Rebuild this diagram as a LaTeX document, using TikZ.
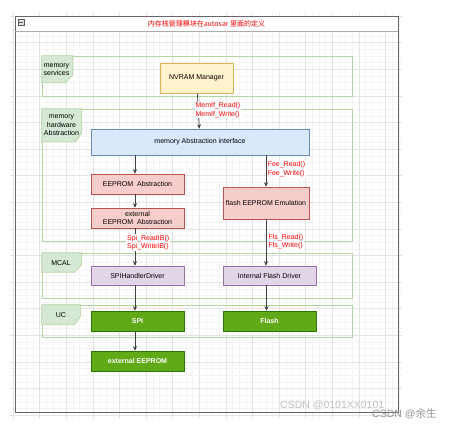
\documentclass[tikz,border=0pt]{standalone}
\usepackage{fontspec}
\setmainfont{Liberation Sans}
\newfontfamily\cjkfont{Noto Sans CJK SC}
\usepackage{xcolor}
\usepackage{tikz}
\usetikzlibrary{positioning,arrows.meta,calc}
\definecolor{svcfill}{HTML}{FFF2CC}
\definecolor{svcline}{HTML}{D6B656}
\definecolor{ifcfill}{HTML}{DAE8FC}
\definecolor{ifcline}{HTML}{6C8EBF}
\definecolor{absfill}{HTML}{F8CECC}
\definecolor{absline}{HTML}{B85450}
\definecolor{drvfill}{HTML}{E1D5E7}
\definecolor{drvline}{HTML}{9673A6}
\definecolor{hwfill}{HTML}{60A917}
\definecolor{hwline}{HTML}{2D7600}
\definecolor{grpline}{RGB}{180,212,162}
\definecolor{tabfill}{HTML}{D5E8D4}

\begin{document}
\begin{tikzpicture}[
    x=1pt, y=-1pt,
    >={Stealth[length=4.5pt,width=4pt]},
    every node/.style={font=\fontsize{7}{8.5}\selectfont},
    box/.style={
        rectangle, draw, line width=0.6pt, minimum width=93pt, minimum height=20pt,
        inner sep=1pt, align=center
    },
    grp/.style={rectangle, draw=grpline, line width=0.7pt, minimum width=310pt},
    tab/.style={draw=grpline, fill=tabfill, line width=0.7pt},
    tablabel/.style={align=center, inner sep=0pt},
    arr/.style={->, draw=black!75, line width=0.7pt},
    lbl/.style={text=red, fill=white, inner sep=0.8pt, align=left, anchor=west}
]
\useasboundingbox (0,0) rectangle (455,428);

% background grid
\begin{scope}[shift={(13,16)}]
    \draw[gray!9, line width=0.3pt, step=6.65pt] (-3,-3) grid (389,402);
    \draw[gray!22, line width=0.4pt, step=26.6pt] (-3,-3) grid (389,402);
\end{scope}

% frame and title
\node[draw=black!60, line width=0.8pt, minimum width=383pt, minimum height=396pt, inner sep=0pt] (frame) at (206.5,214) {};
\node[draw=black!60, fill=white, line width=0.8pt, minimum width=383pt, minimum height=15pt, inner sep=0pt, text=red, font=\cjkfont\fontsize{7}{8}\selectfont] (title) at (206.5,23.5) {内存栈管理模块在autosar 里面的定义};
\draw[gray!65, line width=1.3pt] (title.south west) -- (title.south east);
\node[draw=black!65, fill=gray!25, line width=0.5pt, minimum width=6pt, minimum height=5.5pt, inner sep=0pt] (fold) at (21,22.2) {};
\draw[black!65, line width=0.8pt] ($(fold.west)+(1.2,0)$) -- ($(fold.east)+(-1.2,0)$);

% layers
\node[grp, minimum height=40pt] (svc) at (197,76) {};
\node[grp, minimum height=132pt] (hwa) at (197,175) {};
\node[grp, minimum height=45pt] (mcal) at (197,275.5) {};
\node[grp, minimum height=32pt] (uc) at (197,321) {};

\draw[tab] (svc.north west) -- ++(31,0) -- ++(0,19) -- ++(-7,8) -- ++(-24,0) -- cycle;
\node[tablabel] (svclbl) at (56.5,69.5) {memory\\services};
\draw[tab] (hwa.north west) -- ++(40,0) -- ++(0,24) -- ++(-6,9) -- ++(-34,0) -- cycle;
\node[tablabel] (hwalbl) at (61.5,125.5) {memory\\hardware\\Abstraction};
\draw[tab] (mcal.north west) -- ++(40,0) -- ++(0,12) -- ++(-7,7.5) -- ++(-33,0) -- cycle;
\node[tablabel] (mcallbl) at (61,262.7) {MCAL};
\draw[tab] (uc.north west) -- ++(39,0) -- ++(0,11) -- ++(-6,9) -- ++(-33,0) -- cycle;
\node[tablabel] (uclbl) at (61,314.8) {UC};

% blocks
\node[box, fill=svcfill, draw=svcline, minimum width=73pt, minimum height=30pt] (nvram) at (196.5,78) {NVRAM Manager};
\node[box, fill=ifcfill, draw=ifcline, minimum width=218pt, minimum height=26pt] (iface) at (200,142) {memory Abstraction interface};
\node[box, fill=absfill, draw=absline] (eepabs) at (137.5,184) {EEPROM\ \ Abstraction};
\node[box, fill=absfill, draw=absline] (exteep) at (137.5,218) {external\\EEPROM\ \ Abstraction};
\node[box, fill=absfill, draw=absline, minimum width=86pt, minimum height=32pt] (flashemu) at (266,203) {flash EEPROM Emulation};
\node[box, fill=drvfill, draw=drvline, minimum height=19pt] (spidrv) at (137.5,275.5) {SPIHandlerDriver};
\node[box, fill=drvfill, draw=drvline, minimum height=19pt] (ifdrv) at (269.5,275.5) {Internal Flash Driver};
\node[box, fill=hwfill, draw=hwline, text=white, font=\bfseries\fontsize{7}{8.5}\selectfont] (spi) at (137.5,321) {SPI};
\node[box, fill=hwfill, draw=hwline, text=white, font=\bfseries\fontsize{7}{8.5}\selectfont] (flash) at (269.5,321) {Flash};
\node[box, fill=hwfill, draw=hwline, text=white, font=\bfseries\fontsize{7}{8.5}\selectfont] (exteeprom) at (137.5,361) {external EEPROM};

% connectors
\draw[arr] (nvram) -- (iface) node[lbl, pos=0.47, xshift=-3.8pt] {MemIf\_Read()\\MemIf\_Write()};
\draw[arr] ($(eepabs.north |- iface.south)+(-2.5,0)$) -- ($(eepabs.north)+(-2.5,0)$);
\draw[arr] ($(eepabs.south)+(-2.5,0)$) -- ($(exteep.north)+(-2.5,0)$);
\draw[arr] ($(exteep.south)+(-2.5,0)$) -- ($(spidrv.north)+(-2.5,0)$) node[lbl, pos=0.38, xshift=-9pt] {Spi\_ReadIB()\\Spi\_WriteIB()};
\draw[arr] ($(spidrv.south)+(-2.5,0)$) -- ($(spi.north)+(-2.5,0)$);
\draw[arr] ($(spi.south)+(-2.5,0)$) -- ($(exteeprom.north)+(-2.5,0)$);
\draw[arr] (flashemu.north |- iface.south) -- (flashemu.north) node[lbl, pos=0.45, xshift=0.6pt] {Fee\_Read()\\Fee\_Write()};
\draw[arr] (flashemu.south) -- (flashemu.south |- ifdrv.north) node[lbl, pos=0.48, xshift=1.5pt] {Fls\_Read()\\Fls\_Write()};
\draw[arr] ($(ifdrv.south)+(-3,0)$) -- ($(flash.north)+(-3,0)$);

% watermarks
\node[anchor=west, text=gray!50, inner sep=0pt, font=\fontsize{10.5}{12}\selectfont] (wmone) at (280,405.5) {CSDN @0101XX0101};
\node[anchor=west, text=gray!85, inner sep=0pt, font=\fontsize{10.5}{12}\selectfont] (wmtwo) at (372,413.5) {CSDN @{\cjkfont 余生}};

\end{tikzpicture}
\end{document}
